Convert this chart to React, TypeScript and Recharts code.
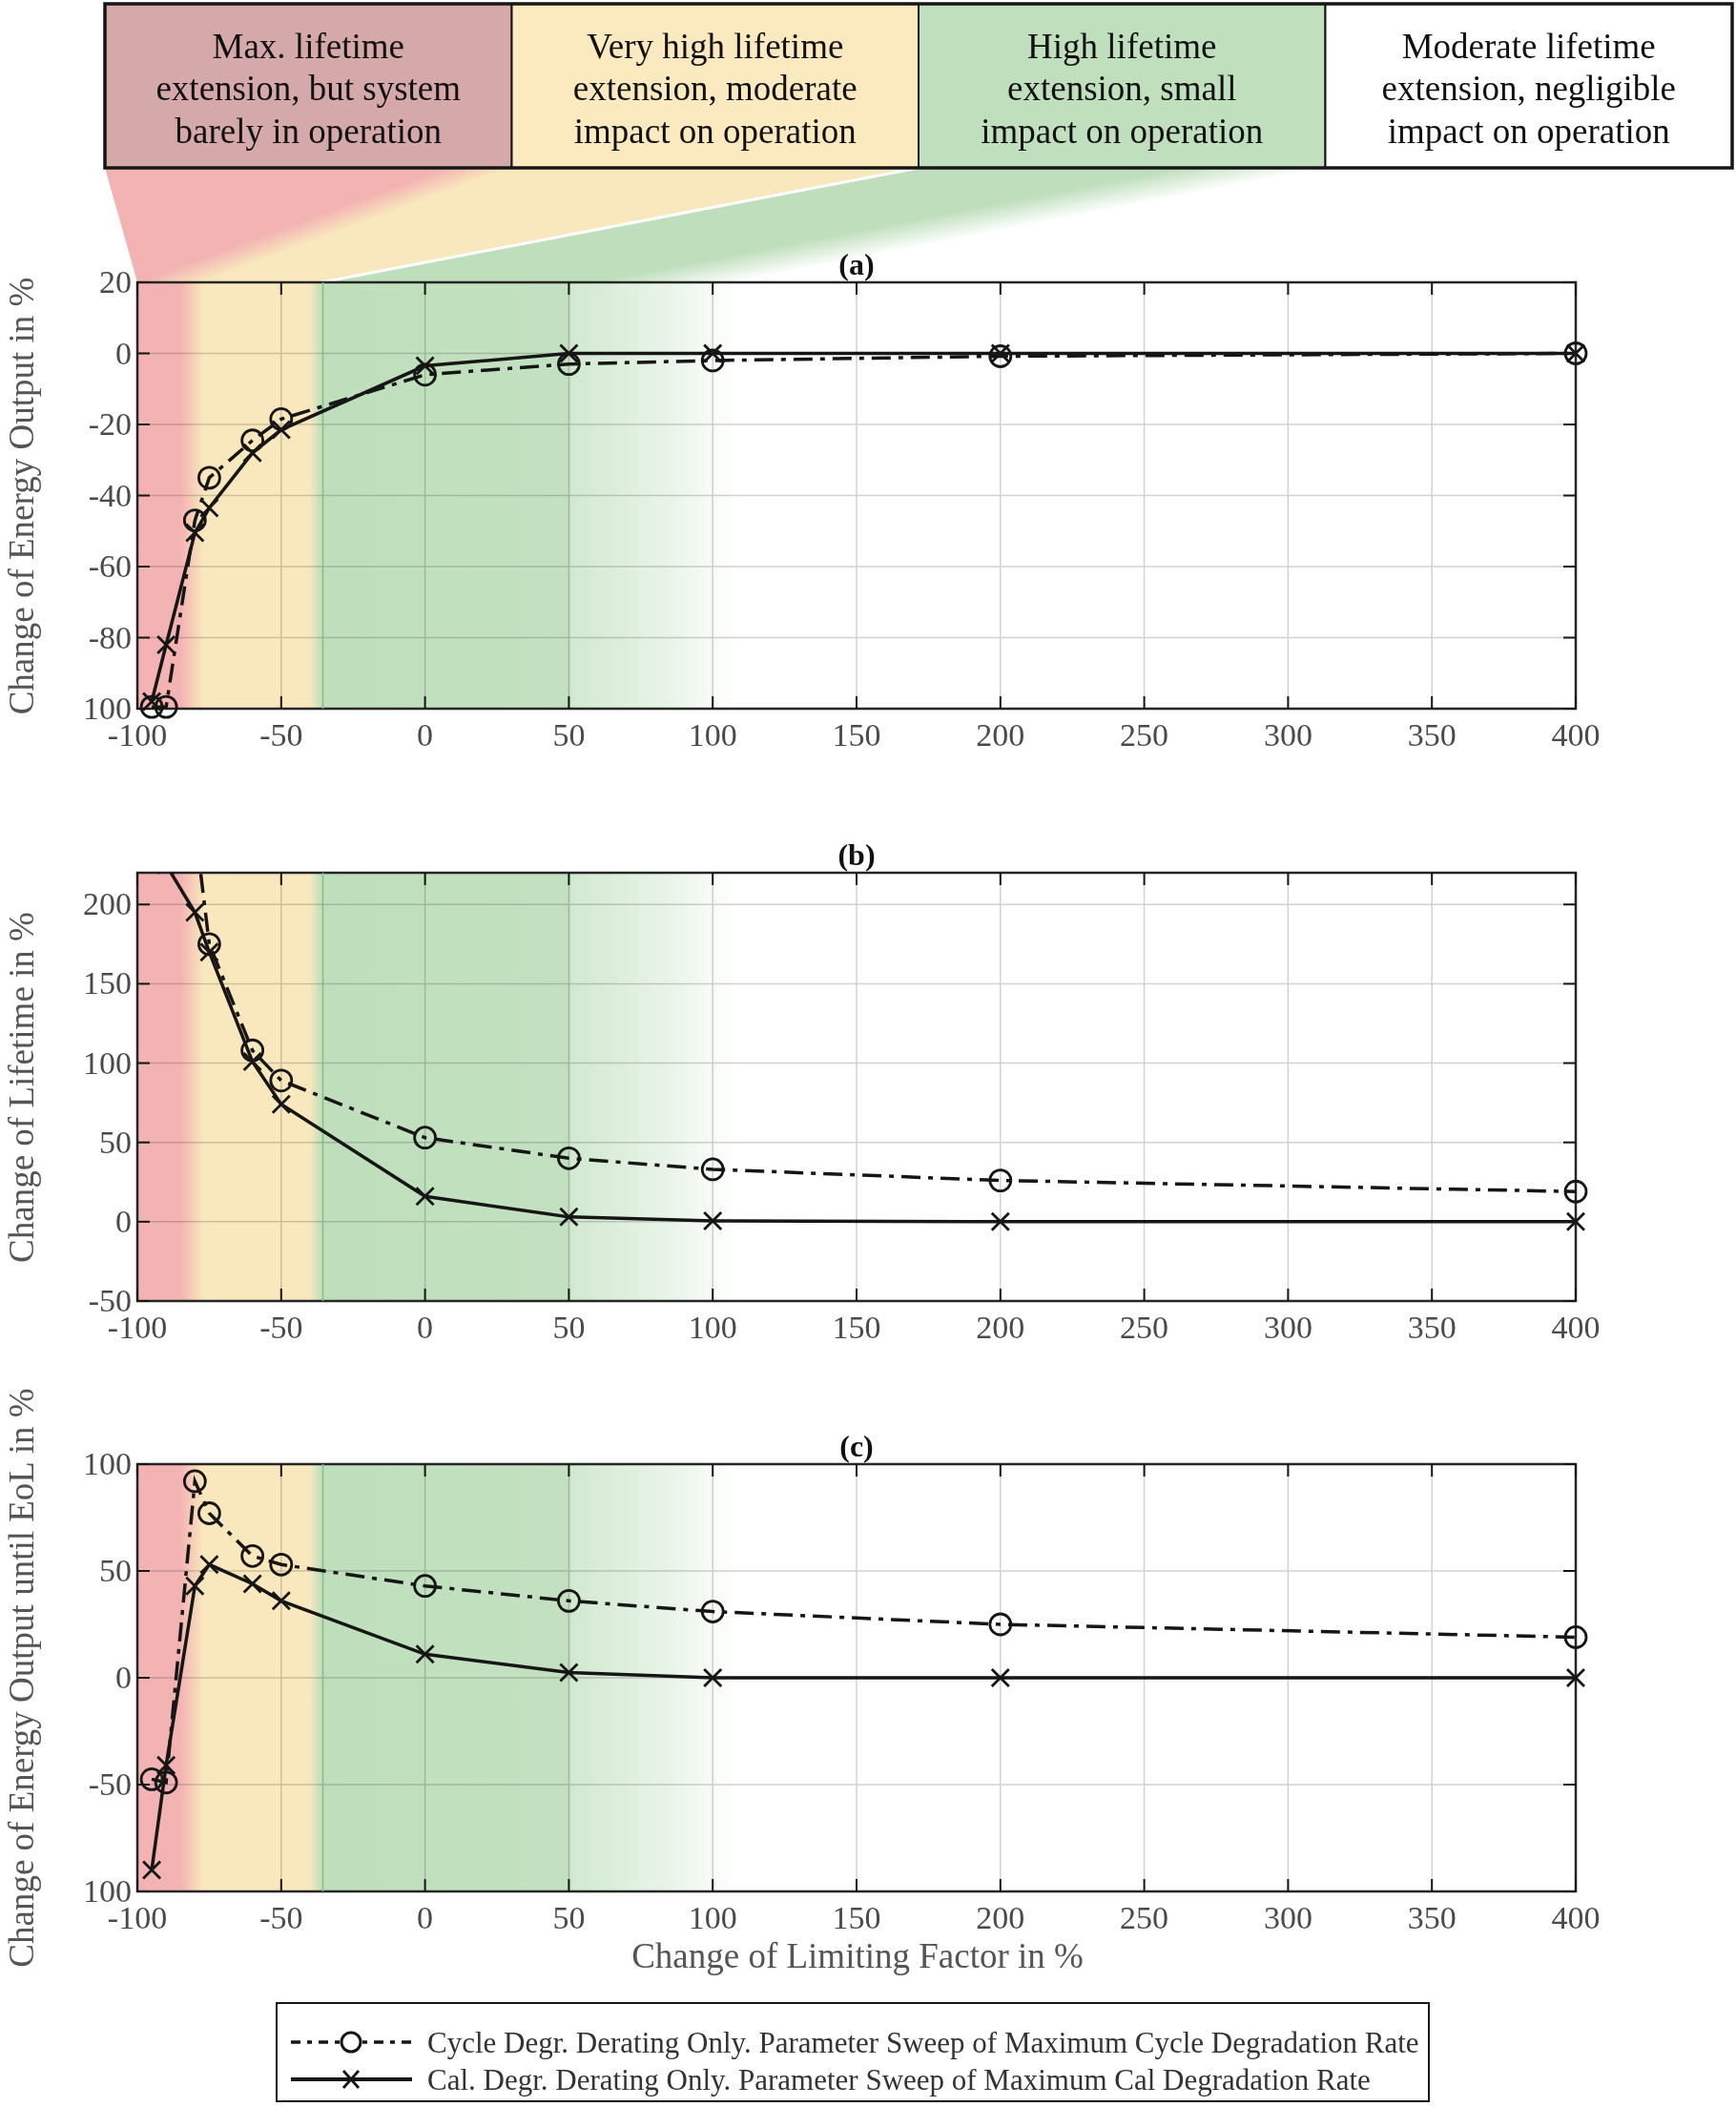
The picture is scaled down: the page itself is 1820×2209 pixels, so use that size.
import React from 'react';
import {
  LineChart,
  Line,
  XAxis,
  YAxis,
  CartesianGrid,
  ReferenceArea,
  ReferenceLine,
} from 'recharts';

document.body.style.margin = '0';

// ---- values ----
const limitingFactor = [-95, -90, -80, -75, -60, -50, 0, 50, 100, 200, 400];
const xTicks = [-100, -50, 0, 50, 100, 150, 200, 250, 300, 350, 400];

// (a) change of energy output in %
const energyCycle = [-99.5, -99.5, -47, -35, -24.5, -18.5, -6, -3, -2, -0.8, 0];
const energyCal = [-98, -82, -50.5, -43.5, -28, -21.5, -3.5, 0, 0, 0, 0];
const energyTicks = [-100, -80, -60, -40, -20, 0, 20];

// (b) change of lifetime in % (the first points of both sweeps leave the plot)
const lifetimeCycle = [10500, 10100, 250, 175, 108, 89, 53, 40, 33, 26, 19];
const lifetimeCal = [400, 225, 195, 170, 101, 74, 16, 3, 0.5, 0, 0];
const lifetimeTicks = [-50, 0, 50, 100, 150, 200];

// (c) change of energy output until EoL in %
const eolCycle = [-47.5, -49, 92, 77, 57, 53, 43, 36, 31, 25, 19];
const eolCal = [-90, -41, 43, 53, 44, 36, 11, 2.5, 0, 0, 0];
const eolTicks = [-100, -50, 0, 50, 100];

const regionTexts = [
  ['Max. lifetime', 'extension, but system', 'barely in operation'],
  ['Very high lifetime', 'extension, moderate', 'impact on operation'],
  ['High lifetime', 'extension, small', 'impact on operation'],
  ['Moderate lifetime', 'extension, negligible', 'impact on operation'],
];

const legendNames = [
  'Cycle Degr. Derating Only. Parameter Sweep of Maximum Cycle Degradation Rate',
  'Cal. Degr. Derating Only. Parameter Sweep of Maximum Cal Degradation Rate',
];

// zone borders on the x axis (limiting factor in %)
const RED_END = -85;
const YELLOW_START = -77;
const YELLOW_END = -40;
const GREEN_START = -36;
const GREEN_EDGE = -35.5;
const GREEN_SOLID_END = 50;
const FADE_END = 108;

// ---- layout ----
const W = 1820;
const H_PAGE = 2209;
const PLOT_L = 144;
const PLOT_R = 1652;
const X_MIN = -100;
const X_MAX = 400;
const MT = 40;
const MB = 60;
const TICK_LEN = 13;
const FONT = "'Liberation Serif', 'Times New Roman', serif";
const INK = '#161616';
const RED = '#f3b3b3';
const YELLOW = '#f9e8bd';
const GREEN = '#bfdfbc';
const DASH = '20 8 5 8';

const xPx = (v: number) => PLOT_L + ((v - X_MIN) / (X_MAX - X_MIN)) * (PLOT_R - PLOT_L);

const PANEL_A_TOP = 296;

const panels = [
  {
    id: 'a', title: '(a)', top: PANEL_A_TOP, plotH: 447, yLabel: 'Change of Energy Output in %',
    yDomain: [-100, 20], yTicks: energyTicks, cycle: energyCycle, cal: energyCal, clip: false,
  },
  {
    id: 'b', title: '(b)', top: 915, plotH: 449, yLabel: 'Change of Lifetime in %',
    yDomain: [-50, 220], yTicks: lifetimeTicks, cycle: lifetimeCycle, cal: lifetimeCal, clip: true,
  },
  {
    id: 'c', title: '(c)', top: 1535, plotH: 448, yLabel: 'Change of Energy Output until EoL in %',
    yDomain: [-100, 100], yTicks: eolTicks, cycle: eolCycle, cal: eolCal, clip: false,
  },
];

const frac = (v: number) => (v - X_MIN) / (FADE_END - X_MIN);

function renderCross(props: any) {
  const { cx, cy, index } = props;
  if (cx == null || cy == null) return <g key={`x-${index}`} />;
  const s = 9;
  return (
    <path
      key={`x-${index}`}
      d={`M${cx - s},${cy - s}L${cx + s},${cy + s}M${cx - s},${cy + s}L${cx + s},${cy - s}`}
      stroke={INK}
      strokeWidth={2.8}
      fill="none"
    />
  );
}

function Panel({ p }: { p: (typeof panels)[number] }) {
  const data = limitingFactor.map((x, i) => ({ x, cycle: p.cycle[i], cal: p.cal[i] }));
  const height = MT + p.plotH + MB;
  const plotTop = MT;
  const plotBottom = MT + p.plotH;

  const xTick = (t: any) => (
    <g>
      <line x1={t.x} x2={t.x} y1={plotBottom} y2={plotBottom - TICK_LEN} stroke={INK} strokeWidth={2} />
      <line x1={t.x} x2={t.x} y1={plotTop} y2={plotTop + TICK_LEN} stroke={INK} strokeWidth={2} />
      <text x={t.x} y={plotBottom + 39} textAnchor="middle" fontSize={34} fill="#4a4a4a" fontFamily={FONT}>
        {t.payload.value}
      </text>
    </g>
  );

  const yTick = (t: any) => (
    <g>
      <line x1={PLOT_L} x2={PLOT_L + TICK_LEN} y1={t.y} y2={t.y} stroke={INK} strokeWidth={2} />
      <line x1={PLOT_R} x2={PLOT_R - TICK_LEN} y1={t.y} y2={t.y} stroke={INK} strokeWidth={2} />
      <text x={PLOT_L - 6} y={t.y + 11} textAnchor="end" fontSize={34} fill="#4a4a4a" fontFamily={FONT}>
        {t.payload.value === -100 ? '100' : String(t.payload.value)}
      </text>
    </g>
  );

  const gid = `zone-${p.id}`;

  return (
    <div style={{ position: 'absolute', left: 0, top: p.top - MT, width: W, height }}>
      <LineChart
        width={W}
        height={height}
        data={data}
        margin={{ top: MT, right: W - PLOT_R, bottom: 0, left: 0 }}
      >
        <defs>
          <linearGradient id={gid} x1="0" y1="0" x2="1" y2="0">
            <stop offset={0} stopColor={RED} />
            <stop offset={frac(RED_END)} stopColor={RED} />
            <stop offset={frac(YELLOW_START)} stopColor={YELLOW} />
            <stop offset={frac(YELLOW_END)} stopColor={YELLOW} />
            <stop offset={frac(GREEN_START)} stopColor={GREEN} />
            <stop offset={frac(GREEN_SOLID_END)} stopColor="#c3e1c0" />
            <stop offset={frac(GREEN_SOLID_END + 1)} stopColor="#d2e9d0" />
            <stop offset={frac(85)} stopColor="#e9f4e8" />
            <stop offset={1} stopColor="#ffffff" />
          </linearGradient>
        </defs>
        <CartesianGrid stroke="#d2d2d2" strokeWidth={1.5} />
        <XAxis
          dataKey="x"
          type="number"
          domain={[X_MIN, X_MAX]}
          ticks={xTicks}
          interval={0}
          height={MB}
          axisLine={false}
          tickLine={false}
          tick={xTick}
        />
        <YAxis
          type="number"
          domain={p.yDomain}
          ticks={p.yTicks}
          interval={0}
          width={PLOT_L}
          allowDataOverflow={p.clip}
          axisLine={false}
          tickLine={false}
          tick={yTick}
        />
        <ReferenceArea
          x1={X_MIN}
          x2={FADE_END}
          y1={p.yDomain[0]}
          y2={p.yDomain[1]}
          shape={(r: any) => (
            <rect
              x={r.x}
              y={r.y}
              width={r.width}
              height={r.height}
              fill={`url(#${gid})`}
              style={{ mixBlendMode: 'multiply' }}
            />
          )}
        />
        <ReferenceLine x={GREEN_EDGE} stroke="#86bf84" strokeWidth={1.5} />
        <ReferenceArea
          x1={X_MIN}
          x2={X_MAX}
          y1={p.yDomain[0]}
          y2={p.yDomain[1]}
          fill="none"
          fillOpacity={0}
          stroke="#262626"
          strokeWidth={2.5}
        />
        <Line
          dataKey="cycle"
          stroke={INK}
          strokeWidth={3.5}
          strokeDasharray={DASH}
          dot={{ r: 11, stroke: INK, strokeWidth: 2.8, fill: 'none', strokeDasharray: 'none' }}
          activeDot={false}
          isAnimationActive={false}
        />
        <Line
          dataKey="cal"
          stroke={INK}
          strokeWidth={3.5}
          dot={renderCross}
          activeDot={false}
          isAnimationActive={false}
        />
      </LineChart>
      <div
        style={{
          position: 'absolute', left: 898, top: MT - 19, transform: 'translate(-50%, -50%)',
          fontFamily: FONT, fontWeight: 'bold', fontSize: 32, color: '#111',
        }}
      >
        {p.title}
      </div>
      <div
        style={{
          position: 'absolute', left: 22, top: MT + p.plotH / 2,
          transform: 'translate(-50%, -50%) rotate(-90deg)', whiteSpace: 'nowrap',
          fontFamily: FONT, fontSize: 37, color: '#555',
        }}
      >
        {p.yLabel}
      </div>
    </div>
  );
}

// gradient running across a slanted fan edge, ending on the edge itself
function edgeGradient(tx: number, ty: number, bx: number, by: number, fade: number) {
  let nx = by - ty;
  let ny = -(bx - tx);
  const len = Math.hypot(nx, ny);
  nx /= len;
  ny /= len;
  const d = fade * nx;
  return { x1: tx - nx * d, y1: ty - ny * d, x2: tx, y2: ty };
}

function Header() {
  const BOX_L = 110;
  const BOX_R = 1816;
  const BOX_T = 4;
  const BOX_B = 176;
  const cellW = (BOX_R - BOX_L) / 4;
  const fills = ['#d5a9a9', '#fbe9c0', '#c0dfbd', '#ffffff'];
  const fb = PANEL_A_TOP;
  const ryEdge = edgeGradient(BOX_L + cellW, BOX_B, xPx(YELLOW_START), fb, 70);
  const gEdge = edgeGradient(BOX_L + 3 * cellW, BOX_B, xPx(FADE_END), fb, 150);
  const lineY = [49, 93, 138];

  return (
    <svg width={W} height={fb + 2} style={{ position: 'absolute', left: 0, top: 0 }}>
      <defs>
        <linearGradient id="fan-ry" gradientUnits="userSpaceOnUse" {...ryEdge}>
          <stop offset={0} stopColor={RED} />
          <stop offset={1} stopColor={YELLOW} />
        </linearGradient>
        <linearGradient id="fan-g" gradientUnits="userSpaceOnUse" {...gEdge}>
          <stop offset={0} stopColor={GREEN} />
          <stop offset={1} stopColor="#ffffff" />
        </linearGradient>
      </defs>
      <polygon
        points={`${BOX_L},${BOX_B} ${BOX_L + 2 * cellW},${BOX_B} ${xPx(GREEN_START)},${fb} ${PLOT_L},${fb}`}
        fill="url(#fan-ry)"
      />
      <polygon
        points={`${BOX_L + 2 * cellW},${BOX_B} ${BOX_L + 3 * cellW},${BOX_B} ${xPx(FADE_END)},${fb} ${xPx(GREEN_START)},${fb}`}
        fill="url(#fan-g)"
      />
      <line
        x1={BOX_L + 2 * cellW}
        y1={BOX_B}
        x2={xPx(GREEN_START)}
        y2={fb}
        stroke="#ffffff"
        strokeWidth={3}
      />
      {regionTexts.map((lines, i) => (
        <g key={i}>
          <rect x={BOX_L + i * cellW} y={BOX_T} width={cellW} height={BOX_B - BOX_T} fill={fills[i]} stroke={INK} strokeWidth={2} />
          {lines.map((t, j) => (
            <text
              key={j}
              x={BOX_L + (i + 0.5) * cellW}
              y={lineY[j] + 12}
              textAnchor="middle"
              fontSize={37}
              fontFamily={FONT}
              fill="#111"
            >
              {t}
            </text>
          ))}
        </g>
      ))}
      <rect x={BOX_L} y={BOX_T} width={BOX_R - BOX_L} height={BOX_B - BOX_T} fill="none" stroke={INK} strokeWidth={3.5} />
    </svg>
  );
}

function LegendBox() {
  const rows = [40, 79];
  return (
    <div
      style={{
        position: 'absolute', left: 289, top: 2099, width: 1210, height: 105,
        border: `2.5px solid ${INK}`, boxSizing: 'border-box', background: '#fff',
      }}
    >
      <svg width={1206} height={100} style={{ position: 'absolute', left: 0, top: 0 }}>
        <line x1={14} x2={141} y1={rows[0]} y2={rows[0]} stroke={INK} strokeWidth={3.5} strokeDasharray="10 7 5 7" />
        <circle cx={77} cy={rows[0]} r={10} fill="#fff" stroke={INK} strokeWidth={3} />
        <line x1={14} x2={141} y1={rows[1]} y2={rows[1]} stroke={INK} strokeWidth={4} />
        <path
          d={`M${77 - 8},${rows[1] - 9}L${77 + 8},${rows[1] + 9}M${77 - 8},${rows[1] + 9}L${77 + 8},${rows[1] - 9}`}
          stroke={INK}
          strokeWidth={2.8}
        />
        {legendNames.map((n, i) => (
          <text key={n} x={157} y={rows[i] + 11} fontSize={31} fontFamily={FONT} fill="#333">
            {n}
          </text>
        ))}
      </svg>
    </div>
  );
}

export default function App() {
  return (
    <div style={{ position: 'relative', width: W, height: H_PAGE, background: '#fff', overflow: 'hidden' }}>
      <Header />
      {panels.map((p) => (
        <Panel key={p.id} p={p} />
      ))}
      <div
        style={{
          position: 'absolute', left: 899, top: 2050, transform: 'translate(-50%, -50%)',
          whiteSpace: 'nowrap', fontFamily: FONT, fontSize: 37, color: '#555',
        }}
      >
        Change of Limiting Factor in %
      </div>
      <LegendBox />
    </div>
  );
}
